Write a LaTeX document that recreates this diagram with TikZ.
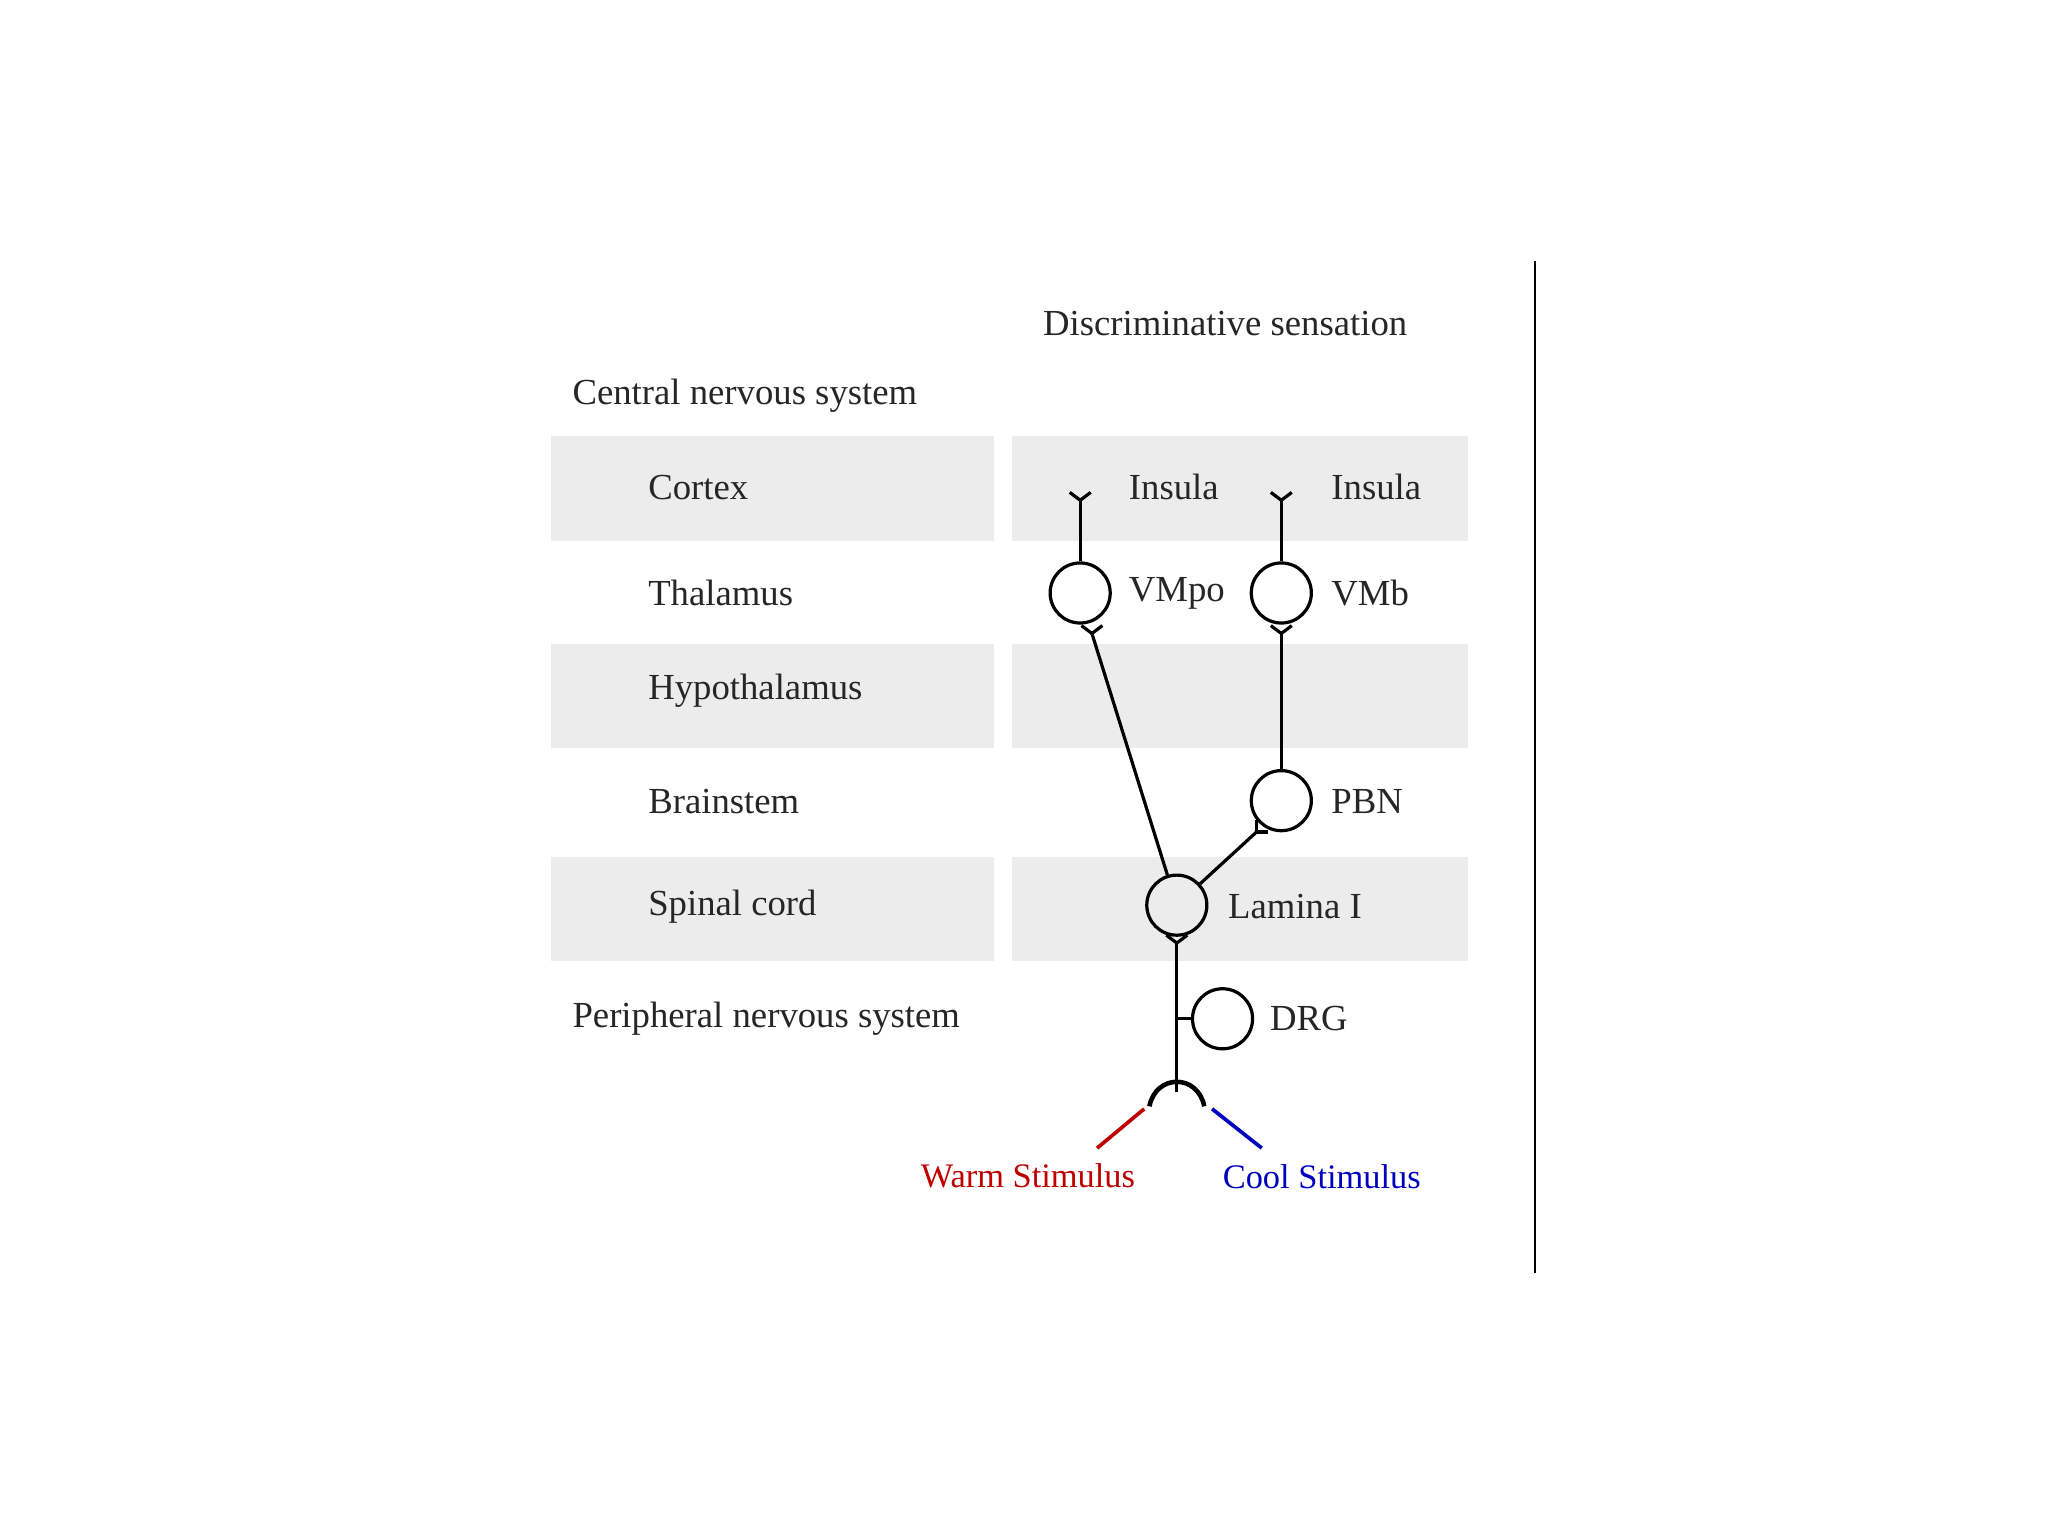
\documentclass[tikz,border=0pt]{standalone}
\usepackage{fontspec}
\setmainfont{Liberation Serif}
\usetikzlibrary{calc}
\begin{document}
\begin{tikzpicture}[x=0.02cm,y=-0.02cm,
  band/.style={fill=gray!18,draw=none},
  lbl/.style={font=\fontsize{16}{18}\selectfont,text=black!85,inner sep=0},
  cell/.style={circle,draw,line width=1.4pt,minimum size=0.92cm,inner sep=0},
  ax/.style={line width=1.4pt}]
\useasboundingbox (0,0) rectangle (1568,1176);
\fill[white] (0,0) rectangle (1568,1176);
\draw[line width=1pt] (1175,200) -- (1175,975);
\foreach \y in {334,493,656}{
  \fill[gray!15] (422,\y) rectangle (761,\y+80);
  \fill[gray!15] (775,\y) rectangle (1124,\y+80);}
\node[lbl] (ds) at (938,248) {Discriminative sensation};
\node[lbl,anchor=west] (cns) at (438,303) {Central nervous system};
\node[lbl,anchor=west] (cx) at (496,373) {Cortex};
\node[lbl,anchor=west] (th) at (496,454) {Thalamus};
\node[lbl,anchor=west] (hy) at (496,529) {Hypothalamus};
\node[lbl,anchor=west] (bs) at (496,614) {Brainstem};
\node[lbl,anchor=west] (sc) at (496,694) {Spinal cord};
\node[lbl,anchor=west] (pns) at (438,780) {Peripheral nervous system};
\node[cell] (vmpo) at (827,454) {};
\node[cell] (vmb) at (981,454) {};
\node[cell] (pbn) at (981,613) {};
\node[cell] (lam) at (901,693) {};
\node[cell] (drg) at (936,780) {};
\node[lbl,anchor=west] (i1) at (864,373) {Insula};
\node[lbl,anchor=west] (i2) at (1019,373) {Insula};
\node[lbl,anchor=west] (t1) at (864,454) {VMpo};
\node[lbl,anchor=west] (t2) at (1019,454) {VMb};
\node[lbl,anchor=west] (t3) at (1019,614) {PBN};
\node[lbl,anchor=west] (t4) at (940,694) {Lamina I};
\node[lbl,anchor=west] (t5) at (972,780) {DRG};
\node[lbl,text=red!75!black,font=\fontsize{15}{17}\selectfont] (ws) at (787,900) {Warm Stimulus};
\node[lbl,text=blue!75!black,font=\fontsize{15}{17}\selectfont] (cs) at (1012,901) {Cool Stimulus};
% synapse points
\coordinate (s1) at (827,383);
\coordinate (s2) at (981,383);
\coordinate (s3) at (836,485);
\coordinate (s4) at (981,485);
\coordinate (s5) at (962,637);
\coordinate (s6) at (901,722);
\coordinate (s7) at (901,836);
\coordinate (dj) at (901,780);
\draw[ax] (vmpo) -- (s1);
\draw[ax] (vmb) -- (s2);
\draw[ax] (lam) -- (s3);
\draw[ax] (pbn) -- (s4);
\draw[ax] (lam) -- (s5);
\draw[ax] (s7) -- (s6);
\draw[ax] (dj) -- (drg);
\foreach \p in {s1,s2,s3,s4,s6}{
  \draw[ax] ($(\p)+(-8,-6)$) -- (\p) -- ($(\p)+(8,-6)$);}
\draw[ax] ($(s5)+(0,-9)$) -- (s5) -- ($(s5)+(9,0)$);
\draw[ax,line width=2pt] (880,847) .. controls (885,822) and (917,822) .. (922,847);
\draw[line width=1.6pt,red!75!black] (876,849) -- (840,879);
\draw[line width=1.6pt,blue!75!black] (928,849) -- (966,879);
\end{tikzpicture}
\end{document}
